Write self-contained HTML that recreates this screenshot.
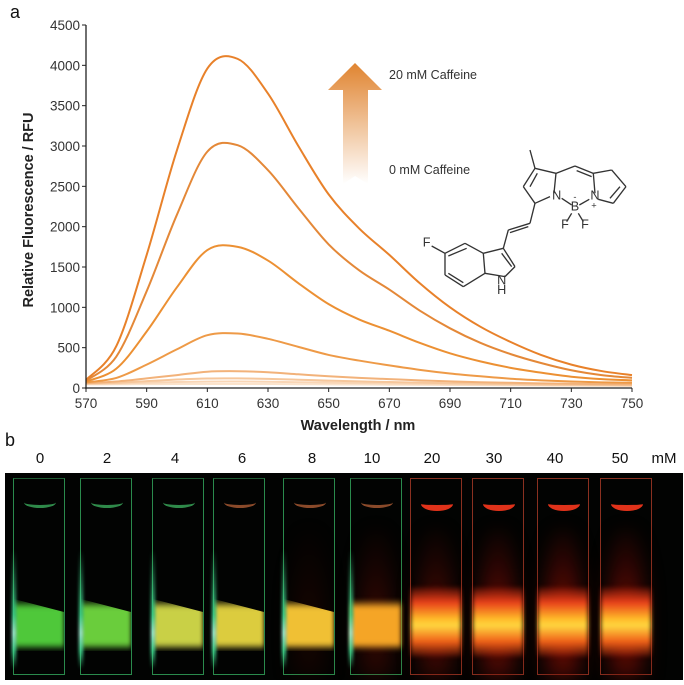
<!DOCTYPE html>
<html><head><meta charset="utf-8"><style>
body{margin:0;background:#fff;width:684px;height:685px;overflow:hidden;position:relative;font-family:"Liberation Sans",sans-serif}
#photo{position:absolute;left:5px;top:473px;width:678px;height:207px;background:#020302;overflow:hidden}
.cuv{position:absolute;top:5px;height:197px;width:52px;box-sizing:border-box;border:1.5px solid #2a8a4c;border-top-color:#1e5a33}
.blob{position:absolute;left:0;right:0;top:120px;height:52px;filter:blur(2px)}
.glow{position:absolute;left:0;right:0;top:50px;height:150px;filter:blur(8px)}
.men{position:absolute;left:10px;width:32px;top:18px;height:8px;border-bottom:3px solid #2f8a4a;border-radius:0 0 50% 50%}
.edge{position:absolute;top:70px;height:120px;width:4px;filter:blur(1.5px);background:linear-gradient(to bottom,transparent,#3fd890 55%,#aef5e0 70%,#3fd890 85%,transparent)}
.lbl{position:absolute;top:450px;font-size:15px;color:#111;transform:translateX(-50%)}
</style></head><body>
<svg id="chart" width="684" height="470" style="position:absolute;left:0;top:0" font-family="Liberation Sans, sans-serif"></svg>
<div id="photo"></div>
<div id="labels"></div>
<script>
const wavelengths=[570,580,590,600,610,620,630,640,650,660,670,680,690,700,710,720,730,740,750];
const s20=[100,520,1650,2950,3960,4080,3650,3000,2400,1980,1650,1300,1000,760,570,410,290,210,160];
const s10=[90,390,1200,2150,2930,3010,2700,2230,1780,1460,1220,960,740,560,420,310,220,160,125];
const s8=[80,240,700,1250,1710,1750,1580,1300,1040,850,710,560,430,330,250,190,140,110,95];
const s6=[70,125,290,480,655,675,610,510,410,340,280,225,180,145,115,95,80,70,65];
const s4=[60,80,120,160,202,208,195,170,145,125,110,95,82,72,65,58,52,48,45];
const s2=[55,65,85,105,118,119,113,103,92,82,74,66,59,53,48,44,40,37,35];
const s1=[50,55,65,75,79,80,77,72,66,61,56,51,47,43,40,37,34,32,30];
const s0=[45,46,48,50,50,50,49,47,45,43,41,39,37,35,33,31,29,28,27];
const xTicks=[570,590,610,630,650,670,690,710,730,750];
const yTicks=[0,500,1000,1500,2000,2500,3000,3500,4000,4500];
const concLabels=["0","2","4","6","8","10","20","30","40","50"];
const NS="http://www.w3.org/2000/svg";
const X=v=>86+(v-570)/180*546, Y=v=>388-v/4500*363;
const svg=document.getElementById('chart');
function mk(t,a,p){const e=document.createElementNS(NS,t);for(const k in a)e.setAttribute(k,a[k]);(p||svg).appendChild(e);return e;}
const series=[[s0,'#fbe3cc'],[s1,'#f9d6b6'],[s2,'#f6c79c'],[s4,'#f2b27a'],[s6,'#ee9a47'],[s8,'#ec9033'],[s10,'#e48838'],[s20,'#e8812a']];
series.forEach(([s,c],i)=>{
  const pts=wavelengths.map((w,j)=>[X(w),Y(s[j])]);
  let d='M'+pts[0][0]+','+pts[0][1];
  for(let j=0;j<pts.length-1;j++){const p0=pts[Math.max(j-1,0)],p1=pts[j],p2=pts[j+1],p3=pts[Math.min(j+2,pts.length-1)];
    d+=` C${p1[0]+(p2[0]-p0[0])/6},${p1[1]+(p2[1]-p0[1])/6} ${p2[0]-(p3[0]-p1[0])/6},${p2[1]-(p3[1]-p1[1])/6} ${p2[0]},${p2[1]}`;}
  const e=mk('path',{d:d,fill:'none',stroke:c,'stroke-width':2});
  
  
});
mk('line',{x1:86,y1:25,x2:86,y2:389,stroke:'#222','stroke-width':1.3});
mk('line',{x1:85,y1:388,x2:632,y2:388,stroke:'#222','stroke-width':1.3});
yTicks.forEach(v=>{mk('line',{x1:82,x2:86,y1:Y(v),y2:Y(v),stroke:'#222'});const t=mk('text',{x:80,y:Y(v)+5,'text-anchor':'end','font-size':13.5,fill:'#333'});t.textContent=v;
  
  });
xTicks.forEach(v=>{mk('line',{x1:X(v),x2:X(v),y1:388,y2:392,stroke:'#222'});const t=mk('text',{x:X(v),y:408,'text-anchor':'middle','font-size':13.5,fill:'#333'});t.textContent=v;
  
  });
let t=mk('text',{x:358,y:430,'text-anchor':'middle','font-size':14.5,'font-weight':'bold',fill:'#222',});t.textContent='Wavelength / nm';
t=mk('text',{x:0,y:0,transform:'translate(33,210) rotate(-90)','text-anchor':'middle','font-size':14.5,'font-weight':'bold',fill:'#222',});t.textContent='Relative Fluorescence / RFU';
t=mk('text',{x:10,y:18,'font-size':18,fill:'#111',});t.textContent='a';
t=mk('text',{x:5,y:446,'font-size':18,fill:'#111',});t.textContent='b';
const defs=mk('defs',{});const g=mk('linearGradient',{id:'ag',x1:0,y1:1,x2:0,y2:0},defs);
mk('stop',{offset:0,'stop-color':'#fff'},g);mk('stop',{offset:1,'stop-color':'#e08430'},g);
mk('polygon',{points:'343,184 355,176 368,184 368,90 382,90 355,63 328,90 343,90',fill:'url(#ag)',});
t=mk('text',{x:389,y:79,'font-size':12.5,fill:'#333',});t.textContent='20 mM Caffeine';
t=mk('text',{x:389,y:174,'font-size':12.5,fill:'#333',});t.textContent='0 mM Caffeine';
const m=mk('g',{transform:'translate(330,40) scale(0.3333)',stroke:'#333','stroke-width':4,fill:'none',});
const bonds=[[600,330,615,385],[615,385,678,400],[678,400,672,460],[615,490,580,440],[580,440,615,385],[600,440,622,400],[615,490,660,470],[678,400,735,378],[735,378,790,400],[740,392,785,410],[790,400,845,390],[845,390,888,440],[888,440,850,490],[850,490,805,478],[840,475,870,440],[790,400,795,460],[695,475,725,495],[748,495,778,478],[725,520,710,545],[745,520,760,545],
[615,490,600,550],[600,550,535,570],[595,560,540,578],[535,570,520,625],[520,625,555,680],[555,680,525,710],[525,710,465,700],[465,700,460,640],[460,640,520,625],[515,640,545,680],
[460,640,405,610],[405,610,345,640],[345,640,345,705],[345,705,400,740],[400,740,465,700],[410,625,355,648],[355,700,400,728],[345,640,305,618]];
bonds.forEach(b=>mk('line',{x1:b[0],y1:b[1],x2:b[2],y2:b[3]},m));
[['N',680,478],['N',795,478],['B',735,512],['F',705,565],['F',765,565],['F',290,620],['N',515,733],['H',515,762]].forEach(a=>{const e=mk('text',{x:a[1],y:a[2],'text-anchor':'middle','font-size':38,fill:'#333',stroke:'none'},m);e.textContent=a[0];});
[['-',735,480],['+',792,505]].forEach(a=>{const e=mk('text',{x:a[1],y:a[2],'text-anchor':'middle','font-size':28,fill:'#333',stroke:'none'},m);e.textContent=a[0];});

// photo
const lefts=[8,75,147,208,278,345,405,467,532,595];
const labelX=[40,107,175,242,312,372,432,494,555,620];
const blobCol=['#4fc83a','#6acd3c','#c9d046','#dccc3e','#f0c034','#f5a526','#fb9a20','#ffa81e','#ffb020','#ffa81e'];
const glowAmt=[0,0,0,0,0.15,0.35,0.5,0.7,0.8,0.75];
const photo=document.getElementById('photo');
lefts.forEach((l,i)=>{
  const c=document.createElement('div');c.className='cuv';c.style.left=l+'px';
  
  
  if(i>=6){c.style.borderColor='#8a3020';}
  if(glowAmt[i]>0){const gl=document.createElement('div');gl.className='glow';gl.style.background=`radial-gradient(ellipse at 50% 65%, rgba(170,20,5,${glowAmt[i]}) 0%, rgba(90,8,4,${glowAmt[i]*0.6}) 50%, transparent 80%)`;c.appendChild(gl);}
  const b=document.createElement('div');b.className='blob';
  b.style.background=`linear-gradient(to bottom, transparent 0%, ${blobCol[i]} 18%, ${blobCol[i]} 85%, transparent 100%)`;
  b.style.clipPath='polygon(0 0,100% 25%,100% 100%,0 100%)';
  if(i>=5){b.style.clipPath='none';}
  if(i>=6){b.style.top='108px';b.style.height='70px';b.style.background=`linear-gradient(to bottom, rgba(200,30,10,0.2) 0%, #e8401a 22%, #ffb828 45%, #ffd840 55%, #f06018 78%, rgba(180,20,10,0.2) 100%)`;}
  c.appendChild(b);
  if(i<6){const e=document.createElement('div');e.className='edge';e.style.left='-2px';c.appendChild(e);}
  const mn=document.createElement('div');mn.className='men';mn.style.borderBottomColor=i<3?'#2f8a4a':(i<6?'#8a4a2a':'#e0321a');if(i>=6){mn.style.borderBottomWidth='6px';}
  c.appendChild(mn);
  photo.appendChild(c);
  const lb=document.createElement('div');lb.className='lbl';lb.style.left=labelX[i]+'px';lb.textContent=concLabels[i];
  
  
  document.getElementById('labels').appendChild(lb);
});
const mm=document.createElement('div');mm.className='lbl';mm.style.left='664px';mm.textContent='mM';


document.getElementById('labels').appendChild(mm);
</script>
</body></html>
